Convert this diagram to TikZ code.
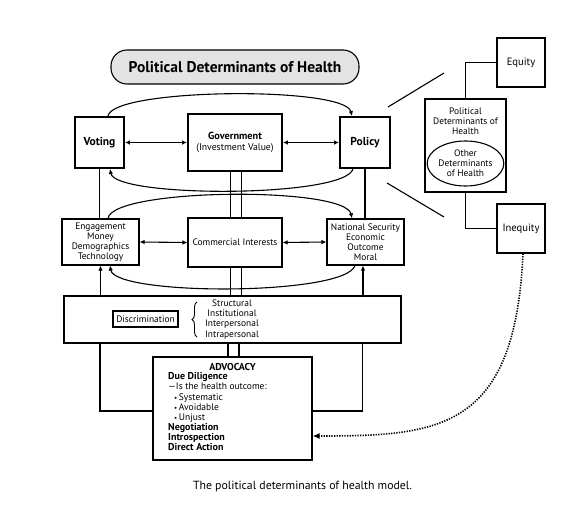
\documentclass[tikz,border=0pt]{standalone}
\usepackage{fontspec}
\setmainfont{PT Sans}
\usetikzlibrary{arrows.meta,decorations.pathreplacing,shapes.geometric}
\newcommand{\advbul}{\hspace*{6pt}{\fontsize{7}{7}\selectfont •}\,}
\begin{document}
\begin{tikzpicture}[x=1pt,y=-1pt,
  thickbox/.style={draw,line width=1.8pt,inner sep=0pt,align=center},
  thinbox/.style={draw,line width=1.1pt,inner sep=0pt,align=center},
  lbl/.style={font=\fontsize{9.4}{10.1}\selectfont},
  conn/.style={line width=1.1pt},
  biarrow/.style={line width=1.1pt,{Latex[length=5pt,width=4.5pt]}-{Latex[length=5pt,width=4.5pt]}},
  onearrow/.style={line width=1.1pt,-{Latex[length=5pt,width=4.5pt]}},
  dotarrow/.style={line width=1.6pt,dash pattern=on 1.3pt off 1.3pt,-{Latex[length=7pt,width=6pt]}}
]
\useasboundingbox (0,0) rectangle (575,521);

% title
\node[draw,line width=1.1pt,fill=gray!22,rounded corners=16pt,minimum width=248pt,minimum height=34pt,inner sep=0pt,
  font=\fontsize{15.5}{17}\selectfont\bfseries] (title) at (235,67) {Political Determinants of Health};

% top row
\node[thickbox,minimum width=49pt,minimum height=51pt,font=\fontsize{11.5}{13}\selectfont\bfseries] (voting) at (99.5,142.5) {Voting};
\node[thickbox,minimum width=94pt,minimum height=57pt,font=\fontsize{9.7}{11.5}\selectfont] (gov) at (235,142.5) {{\fontsize{10.3}{11.5}\selectfont\bfseries Government}\\(Investment Value)};
\node[thickbox,minimum width=50pt,minimum height=51pt,font=\fontsize{11.5}{13}\selectfont\bfseries] (policy) at (365,142.5) {Policy};

% middle row
\node[thinbox,minimum width=77pt,minimum height=46pt,lbl] (eng) at (100.5,242) {Engagement\\Money\\Demographics\\Technology};
\node[thinbox,minimum width=94pt,minimum height=49pt,lbl] (comm) at (235,242.5) {Commercial Interests};
\node[thinbox,minimum width=77pt,minimum height=46pt,lbl] (nat) at (365.5,242) {National Security\\Economic\\Outcome\\Moral};

% discrimination
\node[thinbox,minimum width=337pt,minimum height=47pt] (disc) at (232.5,319.5) {};
\node[thinbox,minimum width=65pt,minimum height=16pt,lbl] (discin) at (145.5,319) {Discrimination};
\node[lbl,align=center,inner sep=0pt] (levels) at (232,319.5) {Structural\\Institutional\\Interpersonal\\Intrapersonal};
\coordinate (bracetop) at (197,302);
\coordinate (bracebot) at (197,337);
\draw[line width=0.9pt,decorate,decoration={brace,mirror,amplitude=5pt}] (bracetop) -- (bracebot);

% advocacy
\node[thinbox,minimum width=159pt,minimum height=103pt] (advo) at (232.5,408.5) {};
\node[font=\fontsize{10}{10}\selectfont\bfseries,inner sep=0pt] (advotitle) at (232.5,366.5) {ADVOCACY};
\node[align=left,anchor=north west,inner sep=0pt,font=\fontsize{9.5}{10.1}\selectfont] (advotext) at (168,372.5)
  {{\fontsize{10}{10.1}\selectfont\bfseries Due Diligence}\\
   ---Is the health outcome:\\
   \advbul Systematic\\
   \advbul Avoidable\\
   \advbul Unjust\\
   {\fontsize{10}{10.1}\selectfont\bfseries Negotiation}\\
   {\fontsize{10}{10.1}\selectfont\bfseries Introspection}\\
   {\fontsize{10}{10.1}\selectfont\bfseries Direct Action}};

% right side
\node[thinbox,minimum width=48pt,minimum height=49pt,font=\fontsize{10.6}{12}\selectfont] (equity) at (521,62.5) {Equity};
\node[thinbox,minimum width=81pt,minimum height=93pt] (pdoh) at (465.5,145.5) {};
\node[lbl,align=center,inner sep=0pt] (pdohtext) at (465.5,121.5) {Political\\Determinants of\\Health};
\node[draw,line width=1.1pt,ellipse,minimum width=61pt,minimum height=45pt,inner sep=0pt,lbl,align=center] (other) at (465.5,163.5) {Other\\Determinants\\of Health};
\node[thinbox,minimum width=48pt,minimum height=49pt,font=\fontsize{10.6}{12}\selectfont] (inequity) at (521,228.5) {Inequity};

% horizontal arrows
\draw[biarrow] (voting.east) -- (gov.west);
\draw[biarrow] (gov.east) -- (policy.west);
\draw[biarrow] (eng.east) -- (comm.west);
\draw[biarrow] (comm.east) -- (nat.west);

% arcs
\draw[onearrow] ([xshift=8.5pt]voting.north) .. controls (112,88) and (345,86) .. ([xshift=-13pt]policy.north);
\draw[onearrow] ([xshift=-12pt]policy.south) .. controls (345,198) and (115,198) .. ([xshift=10.5pt]voting.south);
\draw[onearrow] ([xshift=7.5pt]eng.north) .. controls (112,188) and (345,186) .. ([xshift=-13.5pt]nat.north);
\draw[onearrow] ([xshift=-10.5pt]nat.south) .. controls (345,296) and (115,296) .. ([xshift=9.5pt]eng.south);

% vertical connectors
\draw[conn] (voting.south) -- (voting.south |- eng.north);
\draw[conn] (policy.south) -- (policy.south |- nat.north);
\draw[onearrow] (eng.south |- disc.north) -- (eng.south);
\draw[onearrow] ([xshift=-2.5pt]nat.south |- disc.north) -- ([xshift=-2.5pt]nat.south);
\foreach \dx in {-4.5,6.5}{
  \draw[conn] ([xshift=\dx pt]gov.south) -- ([xshift=\dx pt]gov.south |- comm.north);
  \draw[conn] ([xshift=\dx pt]comm.south) -- ([xshift=\dx pt]comm.south |- disc.north);
  \draw[conn] ([xshift=\dx pt]disc.south) -- ([xshift=\dx pt]disc.south |- advo.north);
}
\coordinate (bl) at (100,411);
\coordinate (br) at (362.5,411);
\draw[conn] (disc.south -| bl) -- (bl) -- (bl -| advo.west);
\draw[conn] (disc.south -| br) -- (br) -- (br -| advo.east);

% right side connectors
\draw[conn] (equity.west) -| (pdoh.north);
\draw[conn] (pdoh.south) |- (inequity.west);
\coordinate (d1a) at (388,107);
\coordinate (d1b) at (444,73);
\coordinate (d2a) at (387,183);
\coordinate (d2b) at (444,217);
\draw[conn] (d1a) -- (d1b);
\draw[conn] (d2a) -- (d2b);
\draw[dotarrow] ([xshift=2pt]inequity.south) .. controls (515,430) and (440,436) .. (advo.east |- 0,436);

% caption
\node[font=\fontsize{11.8}{13}\selectfont,inner sep=0pt] (caption) at (302.5,486) {The political determinants of health model.};
\end{tikzpicture}
\end{document}
